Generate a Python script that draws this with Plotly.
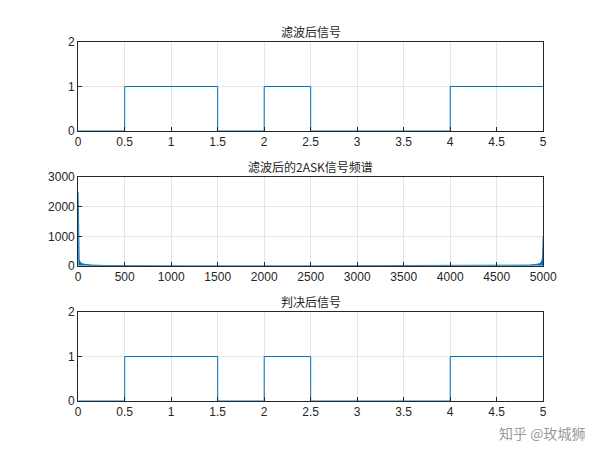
import plotly.graph_objects as go

# step signal: edges (s) and levels
t_edges = [0, 0.5, 1.5, 2, 2.5, 4, 5]
levels = [0, 1, 0, 1, 0, 1, 1]

# spectrum samples
freq = [0, 2, 5, 10, 20, 40, 80, 150, 300, 600, 1200, 2500, 3800, 4400,
        4700, 4850, 4920, 4960, 4980, 4990, 4995, 4998, 5000]
mag = [2500, 900, 400, 220, 130, 75, 45, 25, 12, 6, 3, 2, 3, 6,
       12, 25, 45, 75, 130, 220, 400, 700, 1000]

blue = '#0072BD'
fig = go.Figure()
fig.add_trace(go.Scatter(x=t_edges, y=levels, line_shape='hv', mode='lines',
                         line=dict(color=blue, width=1), xaxis='x', yaxis='y'))
fig.add_trace(go.Scatter(x=freq, y=mag, mode='lines', fill='tozeroy',
                         fillcolor=blue, line=dict(color=blue, width=1),
                         xaxis='x2', yaxis='y2'))
fig.add_trace(go.Scatter(x=t_edges, y=levels, line_shape='hv', mode='lines',
                         line=dict(color=blue, width=1), xaxis='x3', yaxis='y3'))

ax = dict(showline=True, mirror=True, linecolor='#262626', linewidth=1,
          gridcolor='#e6e6e6', ticks='inside', ticklen=4, tickcolor='#262626',
          zeroline=False, automargin=False,
          tickfont=dict(size=12, color='#262626', family='Liberation Sans, Arial'))
# page body offsets the figure by a few px, so domains are shifted to compensate
doms = [(0.727, 0.924), (0.427, 0.624), (0.127, 0.324)]
xdom = [0.117, 0.892]
titles = ['滤波后信号', '滤波后的2ASK信号频谱', '判决后信号']
layout = dict(width=600, height=450, plot_bgcolor='white', paper_bgcolor='white',
              showlegend=False, margin=dict(l=0, r=0, t=0, b=0),
              font=dict(family='Noto Sans CJK SC, Arial', color='#262626'))
for i, (d, ti) in enumerate(zip(doms, titles), start=1):
    s = '' if i == 1 else str(i)
    xa = dict(ax, domain=xdom, anchor='y' + s)
    ya = dict(ax, domain=list(d), anchor='x' + s)
    if i == 2:
        xa.update(range=[0, 5000], dtick=500)
        ya.update(range=[0, 3000], dtick=1000)
    else:
        xa.update(range=[0, 5], dtick=0.5)
        ya.update(range=[0, 2], dtick=1)
    layout['xaxis' + s] = xa
    layout['yaxis' + s] = ya
fig.update_layout(**layout)
for d, ti in zip(doms, titles):
    fig.add_annotation(text=ti, x=sum(xdom) / 2, y=d[1], xref='paper', yref='paper',
                       yanchor='bottom', showarrow=False, font=dict(size=12))
fig.add_annotation(text='知乎 @玫城狮', x=0.965, y=0.056, xref='paper', yref='paper',
                   xanchor='right', yanchor='middle', showarrow=False,
                   font=dict(size=14, color='#9a9a9a'))
fig.write_html("out.html")
